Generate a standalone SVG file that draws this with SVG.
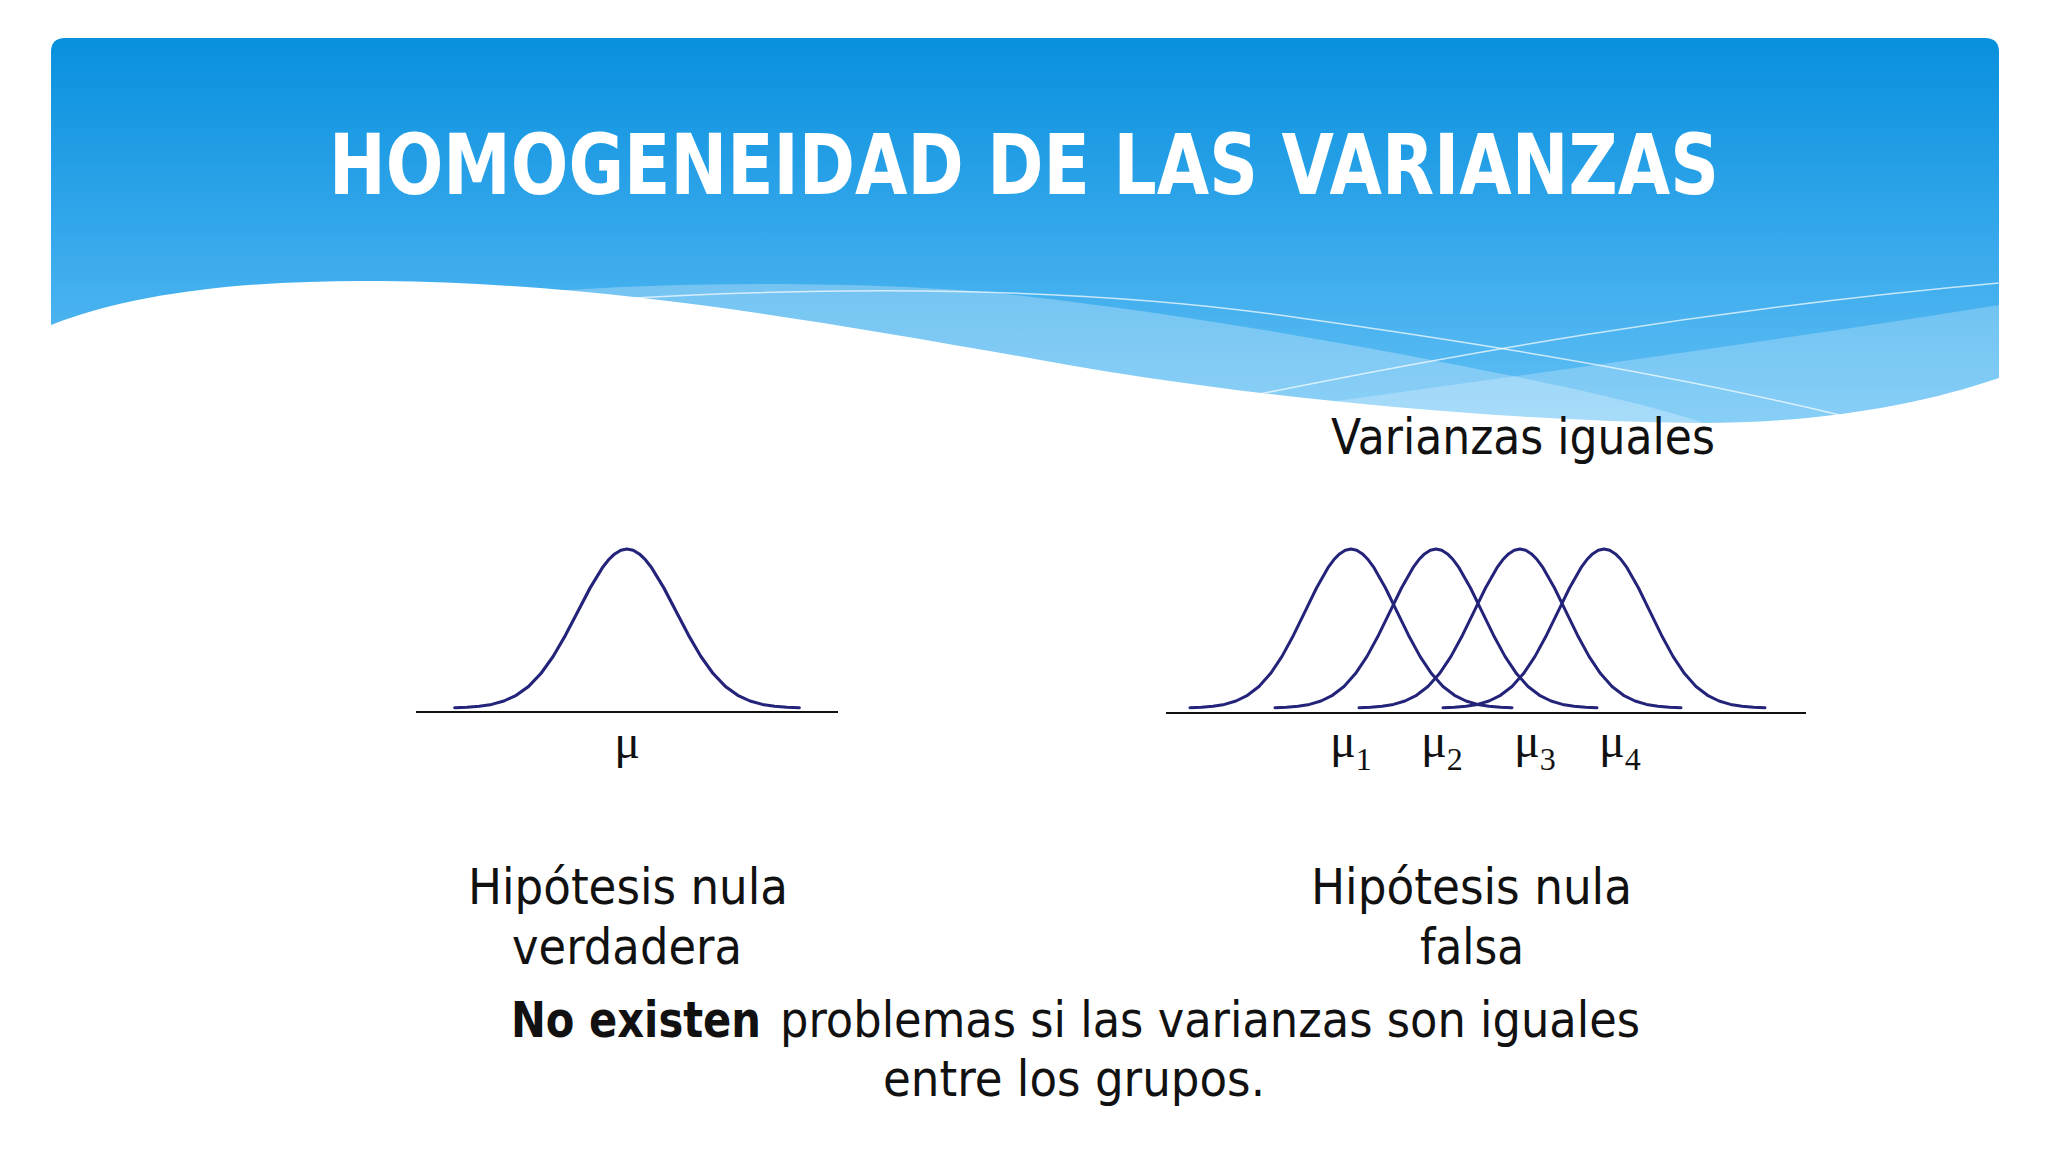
<svg xmlns="http://www.w3.org/2000/svg" xmlns:xlink="http://www.w3.org/1999/xlink" width="2048" height="1152" viewBox="0 0 2048 1152">
  <defs>
    <linearGradient id="hdr" gradientUnits="userSpaceOnUse" x1="0" y1="38" x2="0" y2="430">
      <stop offset="0" stop-color="#0890dd"/>
      <stop offset="0.45" stop-color="#30a5ea"/>
      <stop offset="1" stop-color="#64c1f5"/>
    </linearGradient>
    <path id="bell" d="M-161,-0.35 L-149.5,-0.8 L-138,-1.8 L-126.5,-3.6 L-115,-7 L-103.5,-12.7 L-92,-21.5 L-80.5,-34.4 L-69,-51.6 L-57.5,-72.8 L-46,-96.4 L-34.5,-120 L-23,-140.3 L-17.25,-148.2 L-11.5,-154.1 L-5.75,-157.8 L0,-159 L5.75,-157.8 L11.5,-154.1 L17.25,-148.2 L23,-140.3 L34.5,-120 L46,-96.4 L57.5,-72.8 L69,-51.6 L80.5,-34.4 L92,-21.5 L103.5,-12.7 L115,-7 L126.5,-3.6 L138,-1.8 L149.5,-0.8 L161,-0.35"/>
  </defs>
  <style>
    .bell { fill: none; stroke: #23237a; stroke-width: 3; stroke-linejoin: round; stroke-linecap: round; vector-effect: non-scaling-stroke; }
    .axis { stroke: #111; stroke-width: 2; }
    .body { font-family: "DejaVu Sans", "Noto Sans", sans-serif; font-size: 49px; fill: #111; }
    .bold { font-weight: bold; }
    .title { font-family: "DejaVu Sans", "Noto Sans", sans-serif; font-weight: bold; font-size: 84px; fill: #ffffff; }
    .greek { font-family: "Liberation Serif", "DejaVu Serif", serif; font-size: 48px; fill: #111; }
    .sub { font-size: 32px; }
    .wline { fill: none; stroke: #ffffff; stroke-opacity: 0.7; stroke-width: 1.5; }
  </style>

  <rect x="0" y="0" width="2048" height="1152" fill="#ffffff"/>

  <g id="header">
    <path d="M51,52 Q51,38 65,38 L1985,38 Q1999,38 1999,52 L1999,445 L51,445 Z" fill="url(#hdr)"/>
    <path d="M540,292 C700,280 900,282 1024,296 C1200,316 1400,352 1560,386 C1650,405 1720,425 1760,445 L540,445 Z" fill="#ffffff" fill-opacity="0.27"/>
    <path d="M1200,420 C1450,385 1750,345 1999,305 L1999,445 L1200,445 Z" fill="#ffffff" fill-opacity="0.24"/>
    <path class="wline" d="M600,300 C850,284 1100,288 1300,318 C1500,346 1700,380 1860,420"/>
    <path class="wline" d="M1230,400 C1450,355 1700,310 1999,283"/>
    <path d="M51,325 C140,290 260,280 380,281 C600,283 800,318 1024,357 C1200,390 1450,420 1700,423 C1820,423 1920,405 1999,378 L1999,460 L51,460 Z" fill="#ffffff"/>
  </g>

  <g id="title">
    <text class="title" x="1024" y="194" text-anchor="middle" textLength="1390" lengthAdjust="spacingAndGlyphs">HOMOGENEIDAD DE LAS VARIANZAS</text>
  </g>

  <g id="label-varianzas">
    <text class="body" x="1331" y="454" textLength="384" lengthAdjust="spacingAndGlyphs">Varianzas iguales</text>
  </g>

  <g id="chart-left">
    <line class="axis" x1="416" y1="712" x2="838" y2="712"/>
    <use xlink:href="#bell" href="#bell" class="bell" transform="translate(627,708) scale(1.07,1)"/>
    <text class="greek" x="627" y="758" text-anchor="middle">μ</text>
  </g>

  <g id="chart-right">
    <line class="axis" x1="1166" y1="713" x2="1806" y2="713"/>
    <use xlink:href="#bell" href="#bell" class="bell" transform="translate(1351,708)"/>
    <use xlink:href="#bell" href="#bell" class="bell" transform="translate(1436,708)"/>
    <use xlink:href="#bell" href="#bell" class="bell" transform="translate(1520,708)"/>
    <use xlink:href="#bell" href="#bell" class="bell" transform="translate(1604,708)"/>
    <text class="greek" x="1330" y="757">μ<tspan class="sub" dy="13">1</tspan></text>
    <text class="greek" x="1421" y="757">μ<tspan class="sub" dy="13">2</tspan></text>
    <text class="greek" x="1514" y="757">μ<tspan class="sub" dy="13">3</tspan></text>
    <text class="greek" x="1599" y="757">μ<tspan class="sub" dy="13">4</tspan></text>
  </g>

  <g id="label-h0-true">
    <text class="body" x="468" y="904" textLength="320" lengthAdjust="spacingAndGlyphs">Hipótesis nula</text>
    <text class="body" x="512" y="964" textLength="230" lengthAdjust="spacingAndGlyphs">verdadera</text>
  </g>

  <g id="label-h0-false">
    <text class="body" x="1311" y="904" textLength="321" lengthAdjust="spacingAndGlyphs">Hipótesis nula</text>
    <text class="body" x="1420" y="964" textLength="104" lengthAdjust="spacingAndGlyphs">falsa</text>
  </g>

  <g id="conclusion">
    <text class="body bold" x="511" y="1037" textLength="250" lengthAdjust="spacingAndGlyphs">No existen</text>
    <text class="body" x="780" y="1037" textLength="860" lengthAdjust="spacingAndGlyphs">problemas si las varianzas son iguales</text>
    <text class="body" x="883" y="1096" textLength="382" lengthAdjust="spacingAndGlyphs">entre los grupos.</text>
  </g>
</svg>
